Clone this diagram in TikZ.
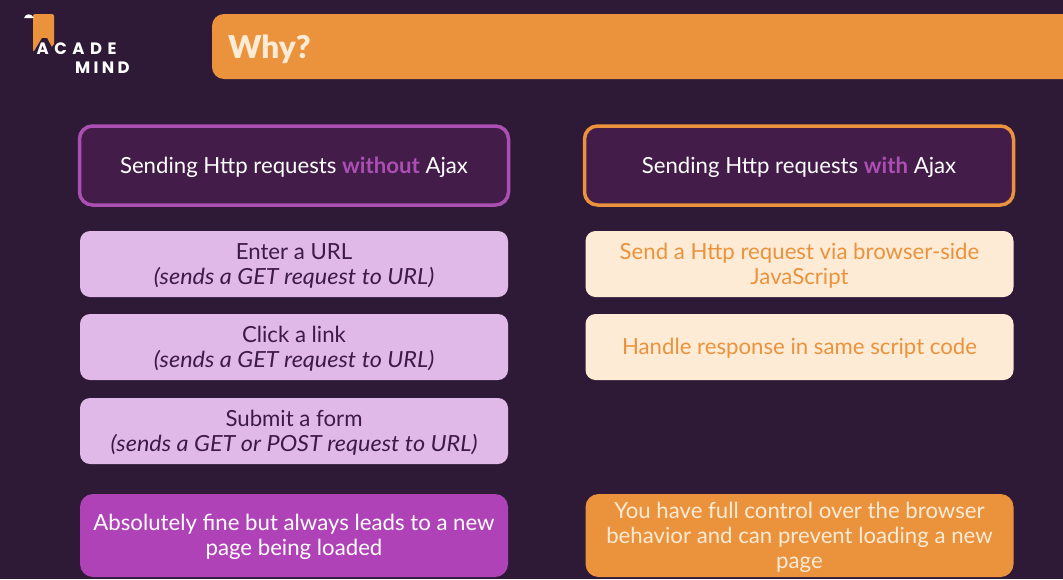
\documentclass[tikz,border=0pt]{standalone}
\usepackage{fontspec}
\setmainfont{Lato}[ItalicFeatures={FakeStretch=1.055}]
\newfontface\blackf{Lato Black}
\newfontfamily\logof{Poppins}
\definecolor{bgc}{HTML}{2E1A37}
\definecolor{headfill}{HTML}{431C4A}
\definecolor{purp}{HTML}{AC4FB2}
\definecolor{purpb}{HTML}{B042B8}
\definecolor{lightp}{HTML}{E0B9E8}
\definecolor{darkt}{HTML}{3D1A48}
\definecolor{orng}{HTML}{EB923C}
\definecolor{cream}{HTML}{FDEBD6}
\tikzset{
  x=1pt,y=-1pt,
  boxbase/.style={rounded corners=10pt,inner sep=0pt,minimum height=66pt,minimum width=428pt},
  headp/.style={boxbase,draw=purp,line width=3.5pt,fill=headfill,minimum width=429pt,minimum height=79pt,rounded corners=13pt},
  heado/.style={headp,draw=orng},
  lightpbox/.style={boxbase,fill=lightp},
  creambox/.style={boxbase,fill=cream},
  purpbox/.style={boxbase,fill=purpb,minimum height=83pt,rounded corners=13pt},
  orngbox/.style={purpbox,fill=orng},
  boxtext/.style={align=center,inner sep=0pt,yshift=-1.5pt,font=\fontsize{22.2}{25}\selectfont},
  logotxt/.style={text=white,inner sep=0pt,font=\fontsize{16.5}{18}\logof\bfseries}
}
\begin{document}
\begin{tikzpicture}
\useasboundingbox (0,0) rectangle (1063,579);
\fill[bgc] (0,0) rectangle (1063,579);
% logo
\fill[orng,rounded corners=2pt] (33,14) -- (54,14) -- (54,46) -- (33,52) -- cycle;
\fill[bgc] (33,53) -- (42,38) -- (47,38) -- (56,55) -- cycle;
\fill[white] (24,18) .. controls (26,13) and (31,13) .. (34,18) -- cycle;
\node[logotxt,anchor=base west] (logoa) at (36.5,54) {A\kern5.5pt C\kern5.5pt A\kern5.5pt D\kern5.5pt E};
\node[logotxt,anchor=base west] (logob) at (75,73) {M\kern3.3pt I\kern3.3pt N\kern3.3pt D};
% header
\fill[orng,rounded corners=12pt] (1090,14) -- (212,14) -- (212,79) -- (1090,79) -- cycle;
\node[inner sep=0pt,text=cream,anchor=base west,font=\fontsize{31.5}{32}\blackf] (why) at (228,58) {Why?};
% left column
\node[headp] (lh) at (294,165.5) {};
\node[boxtext,text=white] (lht) at (lh.center) {Sending Http requests \textcolor{purp}{\textbf{without}} Ajax};
\node[lightpbox] (l1) at (294,264) {};
\node[boxtext,text=darkt] (l1t) at (l1.center) {Enter a URL\\\textit{(sends a GET request to URL)}};
\node[lightpbox] (l2) at (294,347) {};
\node[boxtext,text=darkt] (l2t) at (l2.center) {Click a link\\\textit{(sends a GET request to URL)}};
\node[lightpbox] (l3) at (294,431) {};
\node[boxtext,text=darkt] (l3t) at (l3.center) {Submit a form\\\textit{(sends a GET or POST request to URL)}};
\node[purpbox] (l4) at (294,535.5) {};
\node[boxtext,text=white] (l4t) at (l4.center) {Absolutely fine but always leads to a new\\page being loaded};
% right column
\node[heado] (rh) at (799,165.5) {};
\node[boxtext,text=white] (rht) at (rh.center) {Sending Http requests \textcolor{purp}{\textbf{with}} Ajax};
\node[creambox] (r1) at (799.5,264) {};
\node[boxtext,text=orng] (r1t) at (r1.center) {Send a Http request via browser-side\\JavaScript};
\node[creambox] (r2) at (799.5,347) {};
\node[boxtext,text=orng] (r2t) at (r2.center) {Handle response in same script code};
\node[orngbox] (r3) at (799.5,535.5) {};
\node[boxtext,text=cream] (r3t) at (r3.center) {You have full control over the browser\\behavior and can prevent loading a new\\page};
\end{tikzpicture}
\end{document}
